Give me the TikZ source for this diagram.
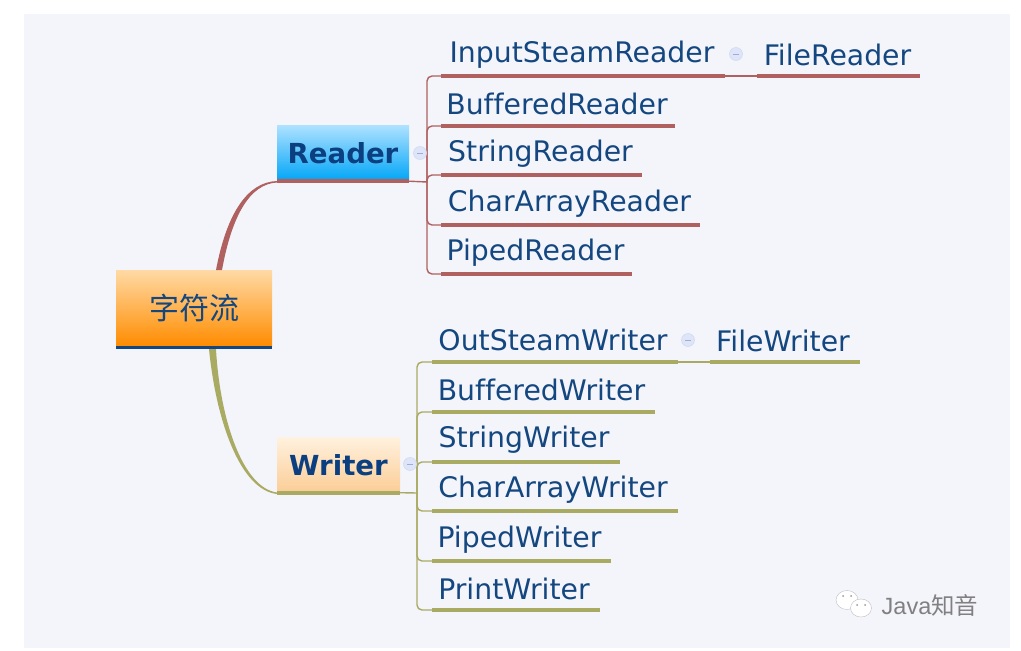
\documentclass[tikz,border=0pt]{standalone}
\usepackage{fontspec}
\setmainfont[Ligatures=NoCommon]{DejaVu Sans}
\newfontfamily\cjkfont{Noto Sans CJK SC}
\newfontfamily\markfont{Liberation Sans}
\definecolor{pagebg}{HTML}{F4F5FB}
\definecolor{inktext}{HTML}{14477F}
\definecolor{boldtext}{HTML}{0B3F80}
\definecolor{readerline}{HTML}{B0615F}
\definecolor{writerline}{HTML}{A9AB62}
\definecolor{btnfill}{HTML}{DFE5F8}
\definecolor{btnedge}{HTML}{D3DBF4}
\definecolor{btnbar}{HTML}{9FAECF}
\tikzset{
  leaf/.style={anchor=south,inner xsep=0pt,inner ysep=0pt,text height=21pt,text depth=12pt,text=inktext,font=\fontsize{28.3}{30}\selectfont},
  rleaf/.style={leaf,execute at end node={\kern2pt}},
  wleaf/.style={leaf,execute at end node={\kern4pt}},
  rrule/.style={readerline,line width=3.6pt},
  wrule/.style={writerline,line width=3.6pt},
  rthin/.style={readerline,line width=1.4pt,rounded corners=5pt},
  wthin/.style={writerline,line width=1.4pt,rounded corners=5pt},
  mainbox/.style={inner sep=0pt,text=boldtext,font=\bfseries\fontsize{27.6}{30}\selectfont},
  btn/.style={circle,inner sep=0pt,minimum size=13pt,fill=btnfill,draw=btnedge,line width=.6pt},
  btnminus/.style={btnbar,line width=1pt},
}
\begin{document}
\begin{tikzpicture}[x=1pt,y=-1pt]
  \useasboundingbox (0,0) rectangle (1021,651);
  \fill[white] (0,0) rectangle (1021,651);
  \fill[pagebg] (24,14) rectangle (1010,648);

  \node[inner sep=0pt,minimum width=156pt,minimum height=76pt,top color={rgb,255:red,255;green,218;blue,165},bottom color={rgb,255:red,255;green,140;blue,0},text=inktext,font=\cjkfont\fontsize{30}{32}\selectfont] (root) at (194,308) {字符流};
  \coordinate (rootedge) at (116,347.5);
  \coordinate (rootedgeb) at (272,347.5);
  \draw[inktext,line width=3.4pt] (rootedge) -- (rootedgeb);

  \node[mainbox,minimum width=132pt,minimum height=56pt,top color={rgb,255:red,175;green,226;blue,255},bottom color={rgb,255:red,0;green,165;blue,247}] (reader) at (343,153) {Reader};
  \node[mainbox,minimum width=123pt,minimum height=55pt,top color={rgb,255:red,255;green,241;blue,222},bottom color={rgb,255:red,251;green,205;blue,150}] (writer) at (338.5,465) {Writer};
  \draw[rrule] (reader.south west) -- (reader.south east);
  \draw[wrule] (writer.south west) -- (writer.south east);

  \coordinate (ra) at (216,270);
  \coordinate (rb) at (222,270);
  \coordinate (rc) at (277,181);
  \coordinate (rd) at (277,182.5);
  \fill[readerline] (ra) .. controls (227,212) and (248,182) .. (rc) -- (rd) .. controls (250,184) and (232,215) .. (rb) -- cycle;
  \coordinate (wa) at (209,349);
  \coordinate (wb) at (216,349);
  \coordinate (wc) at (277,494);
  \coordinate (wd) at (277,492.5);
  \fill[writerline] (wa) .. controls (216,420) and (240,490) .. (wc) -- (wd) .. controls (243,488) and (220,420) .. (wb) -- cycle;

  \node[rleaf,minimum width=284pt,text depth=13pt] (isr) at (583,76) {InputSteamReader};
  \node[rleaf,minimum width=163pt,text depth=10pt] (fr) at (838.5,76) {FileReader};
  \node[rleaf,minimum width=234pt,text depth=11pt] (bfr) at (558,126) {BufferedReader};
  \node[rleaf,minimum width=201pt,text depth=13pt] (sr) at (541.5,175) {StringReader};
  \node[rleaf,minimum width=259pt,text depth=13pt] (car) at (570.5,225) {CharArrayReader};
  \node[rleaf,minimum width=191pt,text depth=13pt] (pr) at (536.5,274) {PipedReader};

  \node[wleaf,minimum width=246pt,text depth=11pt] (osw) at (555,362) {OutSteamWriter};
  \node[wleaf,minimum width=150pt,text depth=10pt] (fw) at (785,362) {FileWriter};
  \node[wleaf,minimum width=223pt,text depth=11pt] (bfw) at (543.5,412) {BufferedWriter};
  \node[wleaf,minimum width=188pt,text depth=14pt] (sw) at (526,462) {StringWriter};
  \node[wleaf,minimum width=246pt,text depth=13pt] (caw) at (555,511) {CharArrayWriter};
  \node[wleaf,minimum width=179pt,text depth=13pt] (pw) at (521.5,561) {PipedWriter};
  \node[wleaf,minimum width=168pt,text depth=10pt] (ptw) at (516,610) {PrintWriter};

  \coordinate (rjoin) at (427,182);
  \coordinate (wjoin) at (417,493);
  \draw[rthin] (reader.south east) -- (rjoin);
  \draw[rthin] (rjoin) |- (isr.south west);
  \draw[rthin] (rjoin) |- (bfr.south west);
  \draw[rthin] (rjoin) |- (sr.south west);
  \draw[rthin] (rjoin) |- (car.south west);
  \draw[rthin] (rjoin) |- (pr.south west);
  \draw[rthin] (isr.south east) -- (fr.south west);
  \draw[wthin] (writer.south east) -- (wjoin);
  \draw[wthin] (wjoin) |- (osw.south west);
  \draw[wthin] (wjoin) |- (bfw.south west);
  \draw[wthin] (wjoin) |- (sw.south west);
  \draw[wthin] (wjoin) |- (caw.south west);
  \draw[wthin] (wjoin) |- (pw.south west);
  \draw[wthin] (wjoin) |- (ptw.south west);
  \draw[wthin] (osw.south east) -- (fw.south west);

  \draw[rrule] (isr.south west) -- (isr.south east);
  \draw[rrule] (fr.south west) -- (fr.south east);
  \draw[rrule] (bfr.south west) -- (bfr.south east);
  \draw[rrule] (sr.south west) -- (sr.south east);
  \draw[rrule] (car.south west) -- (car.south east);
  \draw[rrule] (pr.south west) -- (pr.south east);
  \draw[wrule] (osw.south west) -- (osw.south east);
  \draw[wrule] (fw.south west) -- (fw.south east);
  \draw[wrule] (bfw.south west) -- (bfw.south east);
  \draw[wrule] (sw.south west) -- (sw.south east);
  \draw[wrule] (caw.south west) -- (caw.south east);
  \draw[wrule] (pw.south west) -- (pw.south east);
  \draw[wrule] (ptw.south west) -- (ptw.south east);

  \node[btn] (rbtn) at (420,153) {};
  \node[btn] (wbtn) at (410,464) {};
  \node[btn] (isrbtn) at (736,54) {};
  \node[btn] (oswbtn) at (688,340) {};
  \draw[btnminus] ([xshift=-3pt]rbtn.center) -- ([xshift=3pt]rbtn.center);
  \draw[btnminus] ([xshift=-3pt]wbtn.center) -- ([xshift=3pt]wbtn.center);
  \draw[btnminus] ([xshift=-3pt]isrbtn.center) -- ([xshift=3pt]isrbtn.center);
  \draw[btnminus] ([xshift=-3pt]oswbtn.center) -- ([xshift=3pt]oswbtn.center);

  \fill[white,draw=black!25,line width=.4pt] (847,600) ellipse (11pt and 9.5pt);
  \fill[white,draw=black!25,line width=.4pt] (861,608) ellipse (10.5pt and 9pt);
  \fill[black!40] (843,596) circle (1pt) (851,596) circle (1pt) (857,605) circle (1pt) (865,605) circle (1pt);
  \node[inner sep=0pt,text=black!50,font=\fontsize{23.5}{25}\selectfont] (mark) at (930,605) {\markfont Java\cjkfont 知音};
\end{tikzpicture}
\end{document}
